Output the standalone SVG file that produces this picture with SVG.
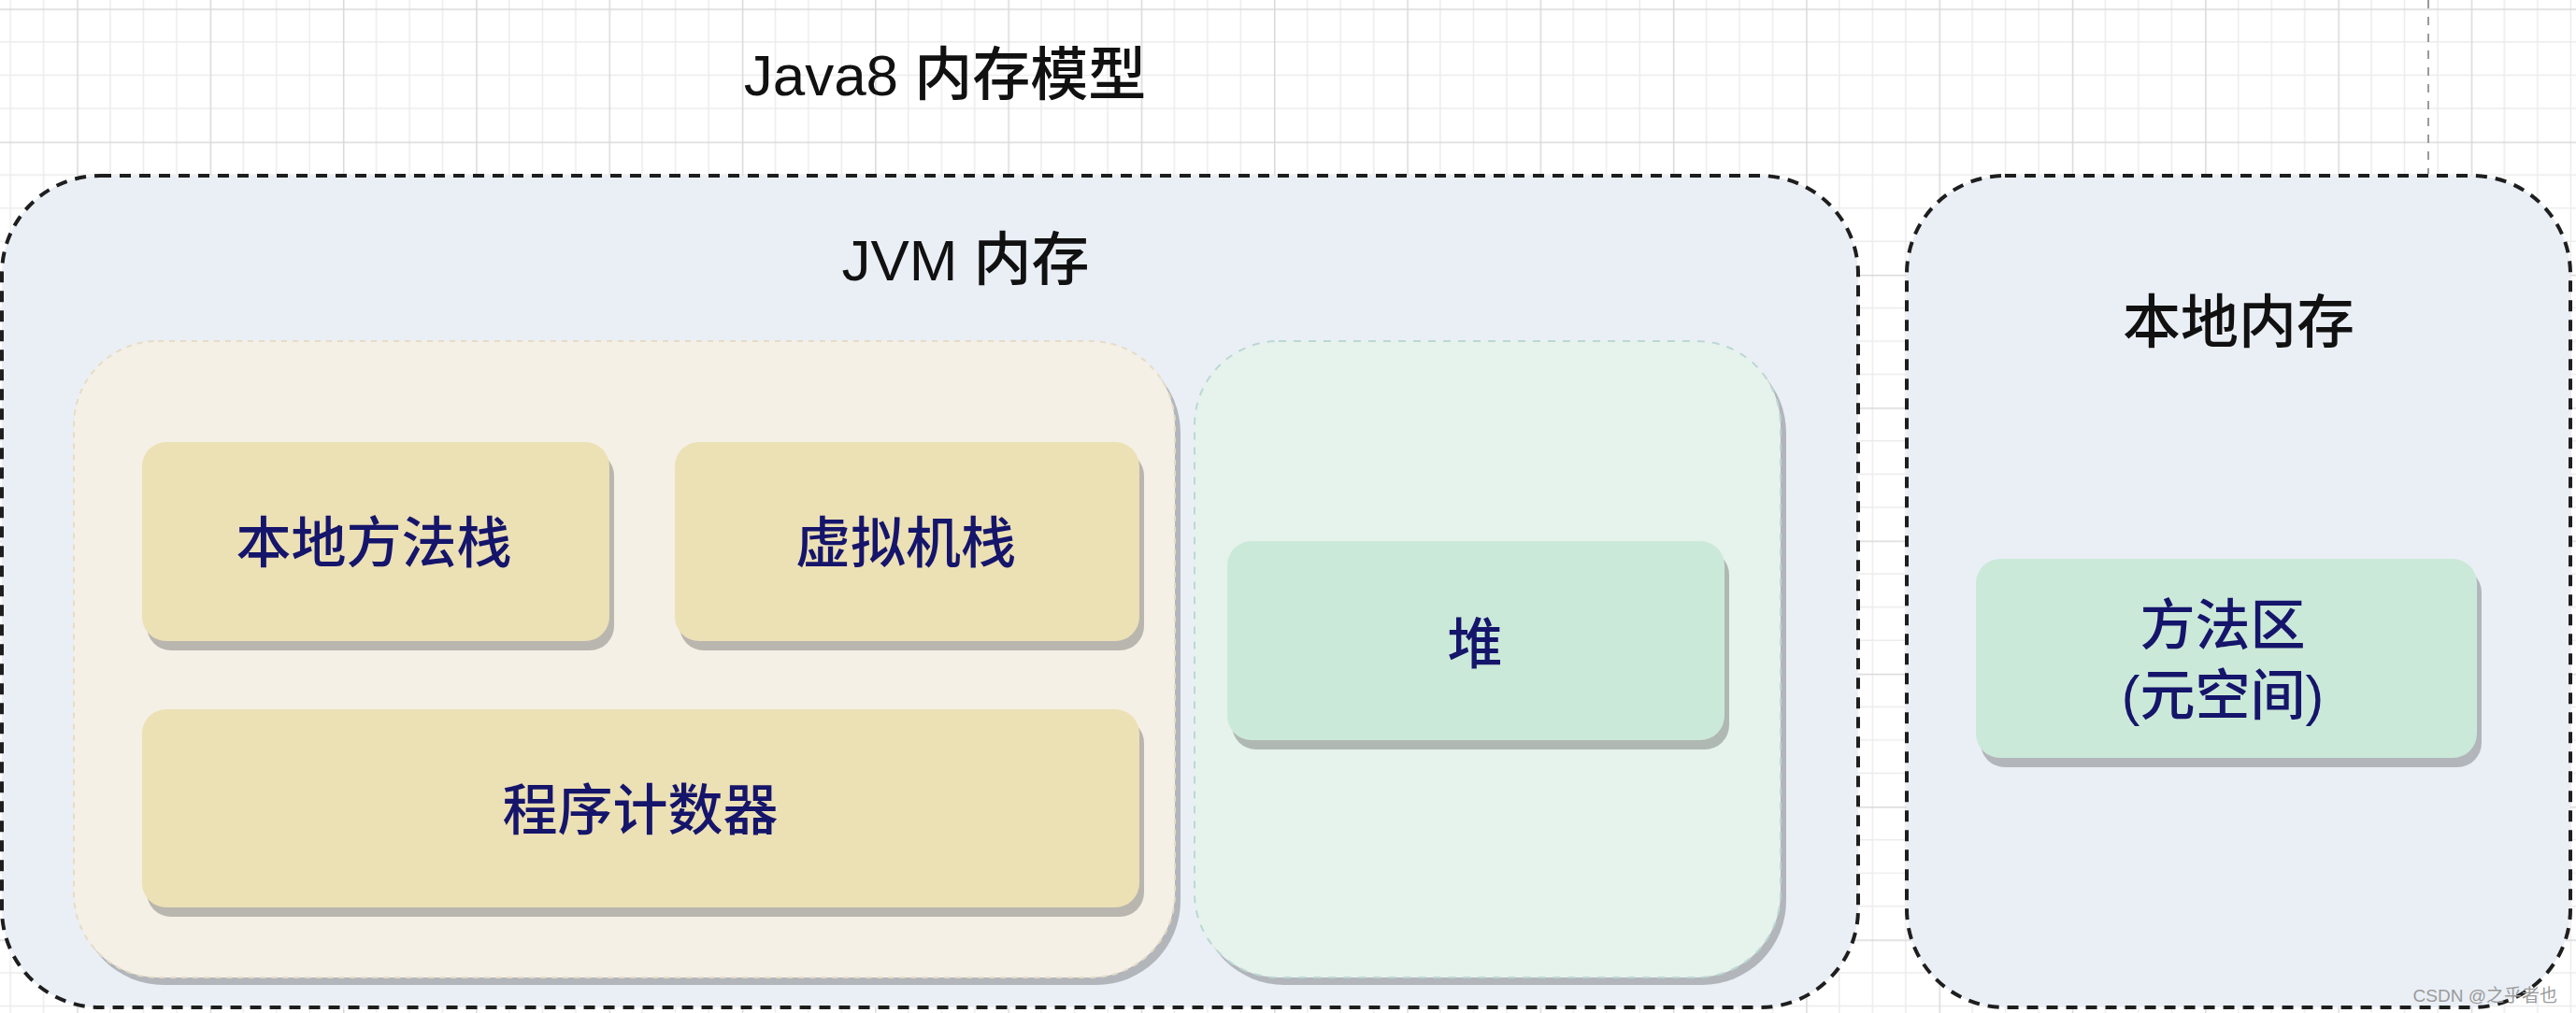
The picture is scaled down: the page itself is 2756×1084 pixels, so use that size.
<svg xmlns="http://www.w3.org/2000/svg" width="2756" height="1084" viewBox="0 0 2756 1084">
  <defs>
    <pattern id="grid" patternUnits="userSpaceOnUse" x="82.3" y="9.3" width="142.3" height="142.3">
      <path d="M35.575 0V142.3M71.15 0V142.3M106.725 0V142.3M0 35.575H142.3M0 71.15H142.3M0 106.725H142.3" stroke="#ececec" stroke-width="1.5" fill="none"/>
      <path d="M0.75 0V142.3M0 0.75H142.3" stroke="#d9d9d9" stroke-width="1.5" fill="none"/>
    </pattern>
    <style>
      .outer { fill: #eaeff6; stroke: #1e1e1e; stroke-width: 4; stroke-dasharray: 12 9; }
      .shadow { fill: #000; fill-opacity: 0.24; }
      .cont-y { fill: #f4f0e6; stroke: #e6dcc6; stroke-width: 2; stroke-dasharray: 6 6; }
      .cont-g { fill: #e6f2ec; stroke: #bcd7d4; stroke-width: 2; stroke-dasharray: 8 8; }
      .box-y { fill: #ece0b5; }
      .box-g { fill: #cbe9d8; }
      .title { font-family: "Liberation Sans", "Noto Sans CJK SC", sans-serif; font-size: 62px; fill: #111; text-anchor: middle; font-weight: 500; }
      .label { font-family: "Liberation Sans", "Noto Sans CJK SC", sans-serif; font-size: 59px; fill: #15156b; text-anchor: middle; font-weight: 500; }
      .wm { font-family: "Liberation Sans", "Noto Sans CJK SC", sans-serif; font-size: 19px; fill: #9a9a9a; text-anchor: end; }
    </style>
  </defs>

  <rect x="0" y="0" width="2756" height="1084" fill="#ffffff"/>
  <rect x="0" y="0" width="2756" height="1084" fill="url(#grid)"/>

  <g id="guide-line">
    <line x1="2598" y1="0" x2="2598" y2="186" stroke="#9a9a9a" stroke-width="2" stroke-dasharray="9 9"/>
  </g>

  <text class="title" x="1011" y="102">Java8 内存模型</text>

  <g id="jvm-memory">
    <rect class="outer" x="2" y="188" width="1986" height="890" rx="105" ry="105"/>
    <text class="title" x="1033" y="300">JVM 内存</text>
  </g>

  <g id="native-memory">
    <rect class="outer" x="2040" y="188" width="710" height="890" rx="105" ry="105"/>
    <text class="title" x="2395" y="367">本地内存</text>
  </g>

  <g id="thread-area">
    <rect class="shadow" x="85" y="373" width="1178" height="681" rx="90" ry="90"/>
    <rect class="cont-y" x="79" y="365" width="1178" height="681" rx="90" ry="90"/>
  </g>

  <g id="heap-area">
    <rect class="shadow" x="1284" y="373" width="627" height="681" rx="90" ry="90"/>
    <rect class="cont-g" x="1278" y="365" width="627" height="681" rx="90" ry="90"/>
  </g>

  <g id="native-method-stack">
    <rect class="shadow" x="157" y="483" width="500" height="213" rx="26" ry="26"/>
    <rect class="box-y" x="152" y="473" width="500" height="213" rx="26" ry="26"/>
    <text class="label" x="400" y="602">本地方法栈</text>
  </g>

  <g id="vm-stack">
    <rect class="shadow" x="727" y="483" width="497" height="213" rx="26" ry="26"/>
    <rect class="box-y" x="722" y="473" width="497" height="213" rx="26" ry="26"/>
    <text class="label" x="969" y="602">虚拟机栈</text>
  </g>

  <g id="program-counter">
    <rect class="shadow" x="157" y="769" width="1067" height="212" rx="26" ry="26"/>
    <rect class="box-y" x="152" y="759" width="1067" height="212" rx="26" ry="26"/>
    <text class="label" x="685" y="888">程序计数器</text>
  </g>

  <g id="heap">
    <rect class="shadow" x="1318" y="589" width="532" height="213" rx="26" ry="26"/>
    <rect class="box-g" x="1313" y="579" width="532" height="213" rx="26" ry="26"/>
    <text class="label" x="1578" y="710">堆</text>
  </g>

  <g id="method-area">
    <rect class="shadow" x="2119" y="608" width="536" height="213" rx="26" ry="26"/>
    <rect class="box-g" x="2114" y="598" width="536" height="213" rx="26" ry="26"/>
    <text class="label" x="2378" y="690">方法区</text>
    <text class="label" x="2378" y="765">(元空间)</text>
  </g>

  <g id="connectors"/>

  <text class="wm" x="2736" y="1072">CSDN @之乎者也</text>
</svg>
